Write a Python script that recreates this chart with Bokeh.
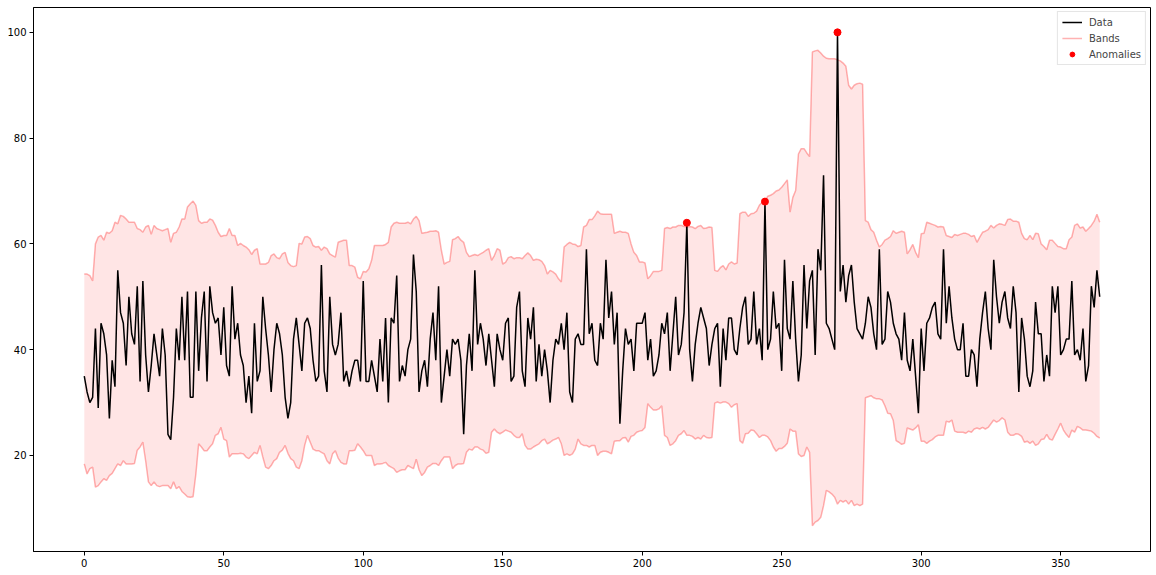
from bokeh.plotting import figure
from bokeh.models import Range1d, FixedTicker, Legend, LegendItem
from bokeh.embed import file_html
from bokeh.resources import INLINE

# ---- data ----
data = [
    35, 32, 30, 31, 44, 29, 45, 43, 39, 27, 38, 33, 55, 47, 45, 37, 50, 43, 41, 52,
    34, 53, 39, 32, 37, 43, 39, 35, 44, 39, 24, 23, 31, 44, 38, 50, 38, 51, 31, 31,
    51, 36, 46, 51, 34, 52, 47, 45, 46, 39, 48, 37, 35, 52, 42, 45, 39, 37, 30, 35,
    28, 45, 34, 36, 50, 44, 39, 32, 40, 45, 43, 39, 31, 27, 30, 42, 46, 41, 36, 45,
    46, 44, 38, 34, 35, 56, 36, 32, 50, 41, 39, 41, 47, 34, 36, 33, 36, 38, 38, 34,
    53, 34, 34, 38, 35, 32, 42, 34, 46, 30, 46, 45, 54, 34, 37, 35, 40, 42, 58, 51,
    32, 36, 38, 33, 42, 47, 38, 52, 30, 35, 40, 35, 42, 41, 42, 38, 24, 37, 43, 36,
    55, 41, 45, 42, 37, 43, 38, 33, 43, 40, 38, 45, 46, 34, 35, 48, 51, 36, 33, 46,
    42, 48, 34, 41, 35, 40, 36, 30, 38, 42, 41, 45, 40, 47, 32, 30, 42, 43, 41, 41,
    59, 43, 45, 38, 37, 45, 42, 57, 46, 51, 41, 47, 26, 36, 44, 41, 42, 36, 45, 45,
    45, 47, 38, 42, 35, 36, 39, 45, 43, 47, 36, 43, 50, 39, 41, 47, 64, 40, 34, 41,
    45, 48, 46, 44, 37, 41, 44, 45, 33, 44, 38, 46, 46, 40, 39, 44, 48, 50, 41, 42,
    51, 41, 44, 38, 68, 40, 42, 51, 44, 45, 36, 57, 44, 42, 53, 42, 34, 39, 56, 44,
    53, 55, 39, 59, 55, 73, 45, 44, 42, 40, 100, 51, 56, 49, 54, 56, 49, 44, 43, 42,
    45, 50, 48, 43, 40, 59, 41, 42, 51, 49, 45, 43, 42, 38, 47, 38, 36, 42, 35, 28,
    44, 36, 45, 46, 48, 49, 43, 42, 59, 45, 52, 46, 42, 40, 40, 45, 35, 35, 40, 39,
    33, 42, 47, 51, 44, 40, 57, 50, 45, 49, 51, 46, 44, 52, 47, 32, 46, 42, 35, 33,
    36, 49, 43, 43, 34, 39, 35, 52, 47, 52, 39, 40, 42, 42, 53, 39, 40, 38, 44, 34,
    37, 52, 48, 55, 50,
]

upper = [
    54.3, 54.3, 54.0, 53.0, 60.0, 61.3, 61.6, 60.7, 62.2, 62.0, 62.5, 64.1, 63.8, 65.4, 65.2, 64.7, 64.1, 64.1, 64.1, 62.9,
    62.7, 62.2, 63.2, 63.5, 61.8, 63.5, 62.9, 62.7, 62.5, 62.7, 62.9, 60.3, 62.0, 62.2, 63.2, 64.7, 64.7, 67.0, 67.6, 68.1,
    67.3, 64.4, 63.9, 64.1, 64.1, 64.7, 64.5, 63.5, 62.2, 61.4, 61.6, 61.6, 62.9, 61.6, 61.6, 59.7, 60.1, 59.7, 59.4, 58.9,
    58.0, 58.8, 59.1, 56.2, 56.2, 56.2, 56.5, 57.8, 58.1, 57.4, 57.2, 58.1, 58.4, 56.5, 55.9, 55.7, 55.9, 60.1, 60.0, 61.3,
    61.4, 61.0, 59.7, 59.4, 59.5, 58.8, 59.4, 59.1, 58.1, 57.8, 57.5, 60.3, 60.5, 60.7, 60.7, 55.9, 55.9, 55.6, 53.7, 53.4,
    54.8, 54.7, 55.3, 56.9, 59.7, 59.7, 59.7, 59.7, 59.9, 60.3, 63.2, 63.9, 64.1, 63.9, 63.9, 63.9, 64.1, 63.8, 64.7, 65.2,
    64.4, 62.0, 62.1, 62.2, 62.4, 62.4, 62.5, 62.2, 58.8, 56.2, 56.5, 56.7, 60.8, 61.0, 61.4, 60.7, 60.3, 58.4, 57.6, 57.8,
    58.0, 57.8, 58.1, 58.4, 58.8, 59.1, 56.9, 57.8, 59.1, 58.8, 56.2, 56.5, 57.4, 57.6, 57.2, 57.4, 57.4, 57.2, 57.8, 58.3,
    57.8, 56.9, 57.1, 57.0, 56.7, 55.9, 54.3, 55.0, 54.7, 54.3, 53.4, 52.8, 59.4, 59.9, 60.3, 60.0, 59.9, 59.5, 59.7, 63.2,
    63.5, 64.6, 64.6, 65.3, 66.2, 65.7, 65.6, 65.6, 65.6, 65.6, 62.0, 62.2, 62.4, 62.2, 62.2, 62.0, 60.0, 58.4, 57.8, 56.6,
    56.6, 56.4, 53.4, 54.0, 54.8, 54.8, 54.8, 55.0, 62.9, 63.1, 62.9, 63.2, 63.2, 63.5, 63.5, 63.3, 63.2, 63.3, 63.2, 62.9,
    63.3, 63.5, 62.9, 63.0, 63.2, 63.1, 55.0, 54.8, 55.5, 55.9, 55.1, 56.2, 56.6, 56.2, 56.4, 65.7, 66.0, 66.0, 65.2, 65.7,
    65.8, 66.2, 67.3, 67.9, 68.2, 69.0, 69.2, 69.5, 70.0, 70.2, 70.7, 71.4, 72.1, 66.0, 68.8, 70.1, 77.0, 78.0, 78.0, 77.2,
    76.5, 96.3, 96.5, 96.6, 96.1, 95.5, 95.1, 95.0, 95.0, 95.0, 94.8, 94.6, 94.2, 93.6, 90.0, 89.3, 90.0, 90.3, 90.4, 90.2,
    64.4, 64.1, 62.7, 62.2, 60.7, 59.4, 59.9, 60.7, 61.0, 61.4, 62.5, 62.0, 62.2, 62.4, 62.2, 58.1, 58.9, 59.9, 58.4, 57.4,
    61.9, 62.0, 64.1, 63.9, 63.7, 63.5, 63.2, 63.3, 63.2, 61.6, 61.4, 61.2, 61.8, 61.6, 61.8, 62.0, 62.0, 61.8, 61.4, 61.6,
    60.3, 61.3, 62.2, 62.4, 62.7, 63.5, 63.0, 63.5, 63.8, 63.7, 63.5, 64.6, 64.7, 64.3, 64.3, 64.1, 62.0, 61.0, 60.8, 61.6,
    60.8, 62.0, 61.9, 60.0, 59.5, 58.9, 60.7, 60.7, 60.1, 59.5, 59.4, 59.1, 59.1, 60.8, 61.3, 63.5, 63.8, 63.0, 63.2, 62.4,
    62.9, 63.5, 64.3, 65.6, 64.1,
]

lower = [
    18.4, 16.5, 17.5, 17.8, 14.0, 14.3, 15.0, 15.6, 15.3, 16.2, 16.6, 17.5, 18.4, 18.1, 19.0, 18.4, 18.4, 18.4, 18.5, 21.0,
    21.6, 22.5, 19.0, 15.0, 14.3, 15.0, 14.3, 14.1, 14.3, 14.3, 14.3, 13.7, 15.0, 13.7, 14.1, 13.2, 12.7, 12.2, 12.1, 12.2,
    16.5, 22.2, 21.6, 20.9, 20.9, 21.6, 22.2, 23.8, 24.1, 25.3, 23.1, 22.8, 19.7, 20.3, 20.3, 20.3, 20.4, 20.3, 19.7, 19.4,
    20.0, 20.6, 20.3, 21.9, 19.7, 17.8, 17.5, 18.1, 19.0, 19.4, 20.6, 21.0, 21.9, 20.4, 19.4, 19.0, 17.8, 17.5, 19.0, 21.9,
    23.8, 22.5, 21.2, 20.9, 20.9, 20.6, 20.3, 19.0, 18.4, 20.3, 20.9, 19.5, 18.7, 18.4, 18.4, 20.9, 20.9, 21.0, 22.2, 21.6,
    20.9, 20.0, 20.0, 20.0, 18.1, 18.4, 18.4, 18.5, 18.7, 18.1, 17.8, 17.5, 16.8, 17.1, 17.3, 17.3, 18.1, 17.8, 17.5, 19.3,
    17.3, 16.2, 16.8, 17.8, 18.1, 18.5, 18.5, 18.1, 19.0, 19.7, 19.7, 19.7, 17.5, 18.1, 18.4, 18.4, 18.5, 20.6, 21.2, 21.0,
    21.6, 21.6, 21.2, 21.0, 20.4, 20.6, 24.4, 25.0, 24.4, 24.1, 24.4, 24.8, 24.6, 24.4, 23.8, 23.4, 23.4, 24.1, 21.9, 21.2,
    21.2, 21.6, 21.9, 22.2, 22.8, 23.1, 22.2, 22.5, 22.9, 23.1, 23.4, 22.2, 20.0, 20.3, 20.0, 20.3, 21.2, 23.1, 22.2, 21.9,
    21.9, 21.6, 21.9, 21.9, 20.0, 20.6, 20.8, 20.8, 20.6, 20.3, 22.7, 22.8, 22.8, 23.3, 23.4, 22.5, 23.6, 23.8, 24.4, 24.6,
    24.7, 25.3, 29.8, 29.1, 28.6, 28.6, 28.8, 29.4, 23.8, 23.4, 21.9, 22.2, 22.8, 23.8, 24.1, 24.7, 23.8, 23.8, 23.6, 23.1,
    23.4, 23.1, 23.8, 23.4, 23.3, 23.4, 29.9, 30.1, 29.9, 30.1, 30.1, 29.8, 29.1, 29.6, 29.8, 22.8, 22.3, 24.1, 24.2, 24.8,
    24.7, 24.1, 23.4, 23.8, 23.8, 23.5, 22.8, 21.6, 20.8, 21.3, 21.3, 21.7, 22.3, 25.0, 24.6, 24.6, 20.3, 19.8, 20.0, 21.6,
    20.6, 6.7, 7.4, 7.7, 8.3, 10.5, 13.4, 13.1, 12.7, 12.1, 10.8, 11.5, 11.2, 11.5, 10.8, 11.5, 10.5, 10.8, 10.5, 10.8,
    30.9, 31.1, 31.3, 30.9, 30.7, 30.7, 30.5, 29.4, 28.0, 27.9, 26.6, 22.8, 22.5, 22.1, 22.3, 25.2, 25.0, 24.8, 25.2, 25.8,
    22.7, 22.7, 22.3, 22.7, 23.0, 23.5, 23.8, 23.8, 23.8, 26.5, 26.3, 26.7, 24.6, 24.4, 24.4, 24.4, 24.2, 24.6, 24.4, 25.0,
    25.2, 25.0, 25.3, 25.0, 25.3, 26.0, 26.7, 26.3, 26.6, 27.1, 26.7, 24.4, 23.8, 23.8, 24.1, 24.0, 23.6, 22.5, 22.7, 22.3,
    22.7, 21.9, 22.2, 23.0, 23.1, 24.0, 23.1, 22.9, 24.0, 25.0, 26.1, 24.8, 24.0, 23.4, 24.8, 24.4, 25.5, 25.2, 24.8, 24.8,
    24.7, 24.6, 24.2, 23.6, 23.3,
]

anomaly_x = [216, 244, 270]
anomaly_y = [data[i] for i in anomaly_x]

x_ticks = [0, 50, 100, 150, 200, 250, 300, 350]
y_ticks = [20, 40, 60, 80, 100]

x = list(range(len(data)))

p = figure(width=1152, height=573, output_backend="svg", toolbar_location=None,
           x_range=Range1d(-18.2, 382.2), y_range=Range1d(1.84, 104.7),
           min_border_left=33, min_border_right=2, min_border_top=7, min_border_bottom=22)

p.varea(x=x, y1=lower, y2=upper, fill_color="red", fill_alpha=0.1)
band_u = p.line(x, upper, line_color="red", line_alpha=0.3, line_width=1.5)
p.line(x, lower, line_color="red", line_alpha=0.3, line_width=1.5)
data_r = p.line(x, data, line_color="black", line_width=1.5)
anom_r = p.scatter(anomaly_x, anomaly_y, size=7, fill_color="red", line_color="red")

p.xgrid.visible = False
p.ygrid.visible = False
p.outline_line_color = "black"
p.outline_line_width = 1
p.outline_line_alpha = 1

for ax in (p.xaxis[0], p.yaxis[0]):
    ax.major_label_text_font = "DejaVu Sans"
    ax.major_label_text_font_size = "10px"
    ax.major_label_text_color = "black"
    ax.axis_line_color = "black"
    ax.major_tick_line_color = "black"
    ax.minor_tick_line_color = None
    ax.major_tick_in = 0
    ax.major_tick_out = 4
    ax.major_label_standoff = 3
p.xaxis[0].ticker = FixedTicker(ticks=x_ticks)
p.yaxis[0].ticker = FixedTicker(ticks=y_ticks)

legend = Legend(items=[
    LegendItem(label="Data", renderers=[data_r]),
    LegendItem(label="Bands", renderers=[band_u]),
    LegendItem(label="Anomalies", renderers=[anom_r]),
], location="top_right")
legend.label_text_font = "DejaVu Sans"
legend.label_text_font_size = "10px"
legend.label_height = 12
legend.glyph_height = 12
legend.glyph_width = 20
legend.spacing = 4
legend.padding = 4
legend.margin = 4
legend.label_standoff = 7
legend.border_line_color = "#cccccc"
legend.border_line_width = 1
legend.background_fill_alpha = 0.8
p.add_layout(legend)

open("out.html", "w").write(file_html(p, INLINE))
